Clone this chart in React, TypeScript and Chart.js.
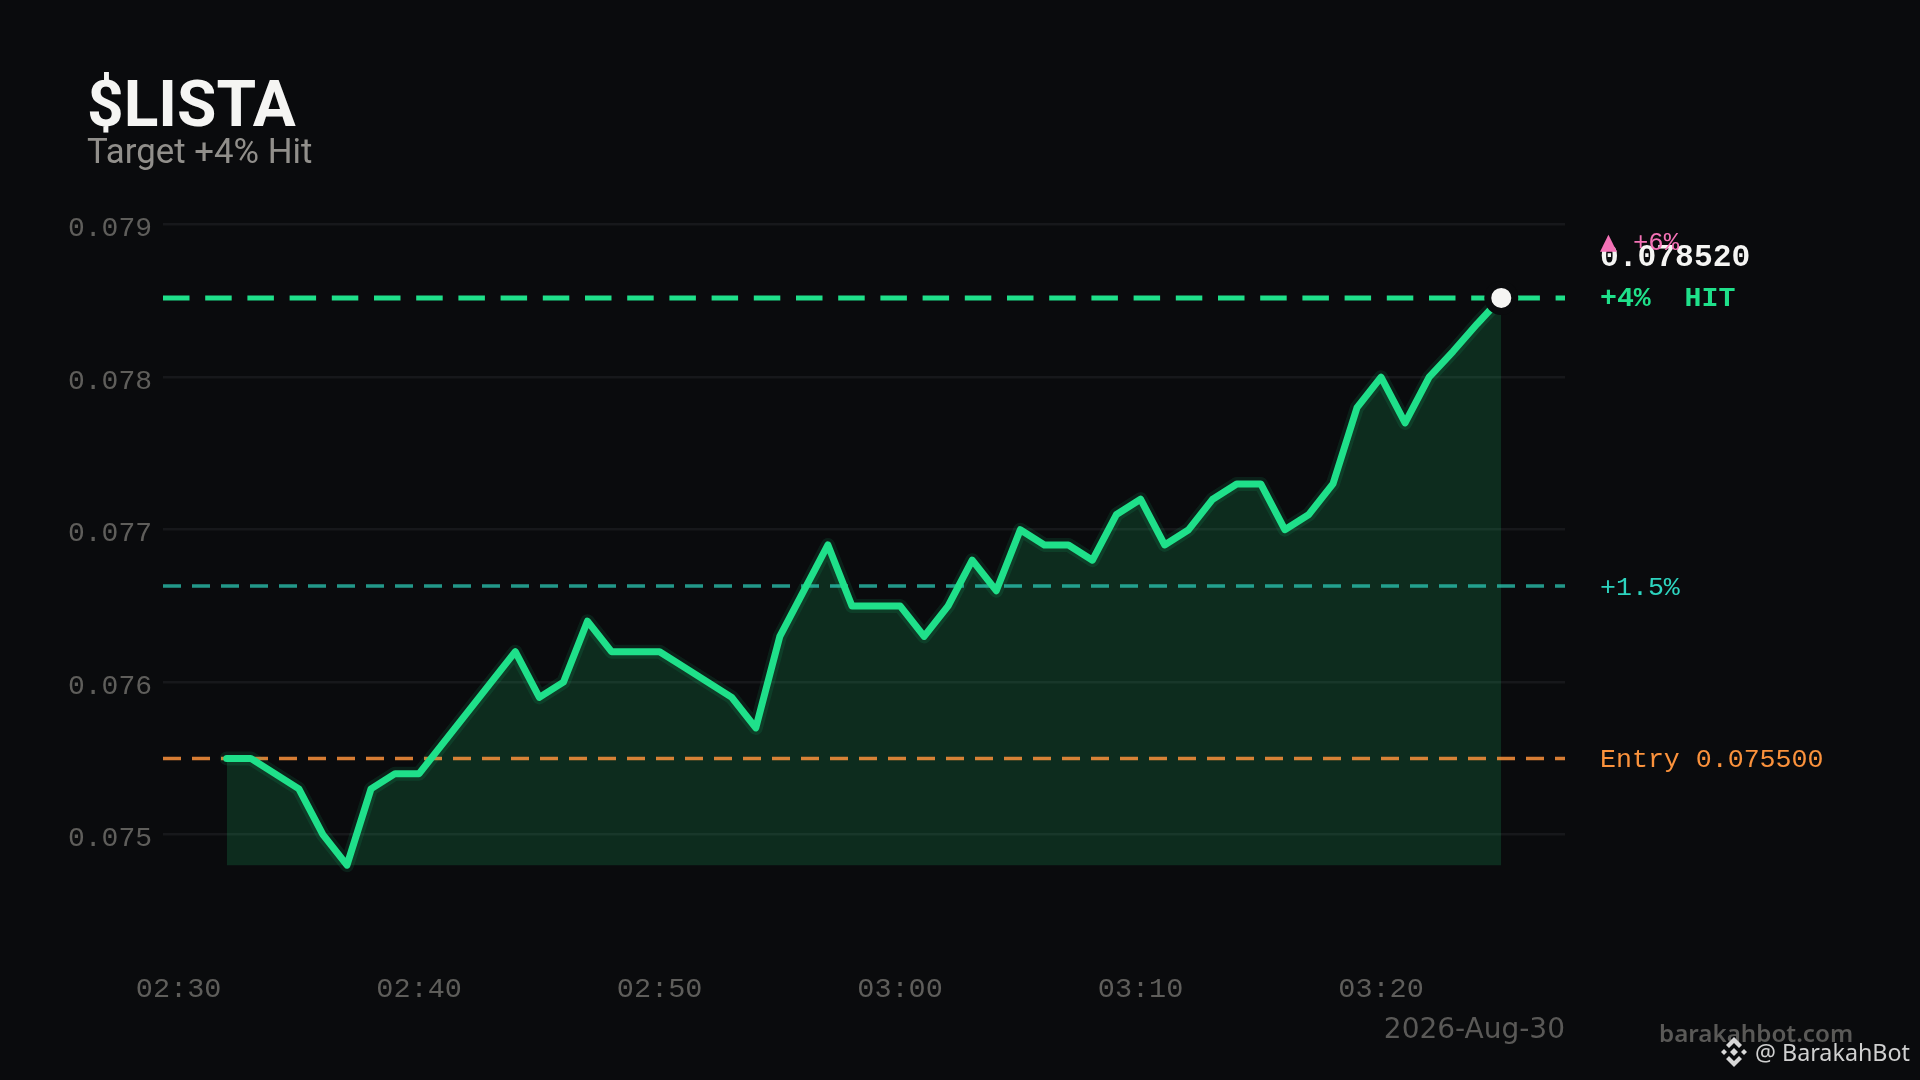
import React, { useEffect, useRef } from "react";
import { Chart, registerables } from "chart.js";

Chart.register(...registerables);

const firstTime = "02:32";
const prices = [
  0.0755, 0.0755, 0.0754, 0.0753, 0.075, 0.0748, 0.0753, 0.0754, 0.0754, 0.0756,
  0.0758, 0.076, 0.0762, 0.0759, 0.076, 0.0764, 0.0762, 0.0762, 0.0762, 0.0761,
  0.076, 0.0759, 0.0757, 0.0763, 0.0766, 0.0769, 0.0765, 0.0765, 0.0765, 0.0763,
  0.0765, 0.0768, 0.0766, 0.077, 0.0769, 0.0769, 0.0768, 0.0771, 0.0772, 0.0769,
  0.077, 0.0772, 0.0773, 0.0773, 0.077, 0.0771, 0.0773, 0.0778, 0.078, 0.0777,
  0.078, 0.07817, 0.07835, 0.07852,
];
const entryPrice = 0.0755;
const tp15Price = 0.07663;
const targetPrice = 0.07852;
const fillBase = 0.0748;

const xMinMinute = 149.35;
const xMaxMinute = 207.65;
const yMin = 0.07418;
const yMax = 0.0792;

const BG = "#0A0B0D";
const GREEN = "#1FE08A";
const MONO = '"Liberation Mono", monospace';

const toMinute = (s: string) => {
  const [h, m] = s.split(":").map(Number);
  return h * 60 + m;
};
const fmtMinute = (v: number) => {
  const h = Math.floor(v / 60);
  const m = Math.round(v - h * 60);
  return `${String(h).padStart(2, "0")}:${String(m).padStart(2, "0")}`;
};

const start = toMinute(firstTime);
const series = prices.map((y, i) => ({ x: start + i, y }));
const level = (y: number) => [
  { x: xMinMinute, y },
  { x: xMaxMinute, y },
];

const rightLabels = {
  id: "rightLabels",
  afterDraw(chart: any) {
    const { ctx, scales } = chart;
    const y = scales.y;
    const X = 1600;
    ctx.save();
    ctx.textBaseline = "middle";
    ctx.textAlign = "left";
    const put = (t: string, px: number, font: string, color: string, x = X) => {
      ctx.font = font;
      ctx.fillStyle = color;
      ctx.fillText(t, x, px + 1.5);
    };
    const ty = y.getPixelForValue(targetPrice);
    put("0.078520", ty - 41, `bold 31.3px ${MONO}`, "#F5F5F3");
    put("▲", ty - 56, '22px "DejaVu Sans"', "#F472B6");
    put("+6%", ty - 56, `25.6px ${MONO}`, "#F472B6", 1633);
    put("+4%  HIT", ty, `bold 28.2px ${MONO}`, GREEN);
    put("+1.5%", y.getPixelForValue(tp15Price), `26.6px ${MONO}`, "#2DD4BF");
    put("Entry 0.075500", y.getPixelForValue(entryPrice), `26.6px ${MONO}`, "#FB923C");
    ctx.restore();
  },
};

const abs = (o: React.CSSProperties): React.CSSProperties => ({
  position: "absolute",
  whiteSpace: "nowrap",
  lineHeight: 1,
  ...o,
});

export default function App() {
  const ref = useRef<HTMLCanvasElement>(null);

  useEffect(() => {
    document.body.style.margin = "0";
    document.body.style.background = BG;
    const chart = new Chart(ref.current!, {
      type: "line",
      data: {
        datasets: [
          {
            data: [series[series.length - 1]],
            order: 0,
            showLine: false,
            pointRadius: 13.5,
            pointBackgroundColor: "#F5F5F3",
            pointBorderColor: BG,
            pointBorderWidth: 7,
            clip: false,
          },
          {
            data: series,
            order: 1,
            borderColor: GREEN,
            borderWidth: 7,
            tension: 0,
            pointRadius: 0,
            borderJoinStyle: "round",
            borderCapStyle: "round",
          },
          {
            data: series,
            order: 2,
            borderColor: "rgba(31,224,138,0.1)",
            borderWidth: 14,
            tension: 0,
            pointRadius: 0,
            borderJoinStyle: "round",
            borderCapStyle: "round",
          },
          {
            data: level(targetPrice),
            order: 3,
            borderColor: GREEN,
            borderWidth: 5,
            borderDash: [26.5, 15.7],
            pointRadius: 0,
          },
          {
            data: level(tp15Price),
            order: 4,
            borderColor: "rgba(45,212,191,0.7)",
            borderWidth: 3.5,
            borderDash: [18, 11],
            pointRadius: 0,
          },
          {
            data: level(entryPrice),
            order: 5,
            borderColor: "rgba(251,146,60,0.85)",
            borderWidth: 3.5,
            borderDash: [18, 11],
            pointRadius: 0,
          },
          {
            data: series,
            order: 6,
            borderWidth: 0,
            tension: 0,
            pointRadius: 0,
            backgroundColor: "rgba(30,225,125,0.155)",
            fill: { value: fillBase },
          },
        ],
      },
      options: {
        responsive: false,
        animation: false,
        devicePixelRatio: 1,
        parsing: false,
        layout: { padding: { left: 0, right: 355, top: 194.2, bottom: 71.3 } },
        plugins: { legend: { display: false }, tooltip: { enabled: false } },
        scales: {
          x: {
            type: "linear",
            min: xMinMinute,
            max: xMaxMinute,
            grid: { display: false },
            border: { display: false },
            ticks: {
              stepSize: 10,
              includeBounds: false,
              maxRotation: 0,
              autoSkip: false,
              padding: 5,
              color: "#5F5E5B",
              font: { family: "Liberation Mono", size: 28.5 },
              callback: (v: any) => fmtMinute(Number(v)),
            },
            afterFit: (s: any) => {
              s.height = 49;
            },
          },
          y: {
            type: "linear",
            min: yMin,
            max: yMax,
            grid: { color: "#17181B", lineWidth: 2.5, drawTicks: false },
            border: { display: false },
            ticks: {
              stepSize: 0.001,
              includeBounds: false,
              padding: 11,
              labelOffset: 4,
              color: "#5F5E5B",
              font: { family: "Liberation Mono", size: 28 },
              callback: (v: any) => Number(v).toFixed(3),
            },
            afterFit: (s: any) => {
              s.width = 163;
            },
          },
        },
      },
      plugins: [rightLabels],
    } as any);
    return () => chart.destroy();
  }, []);

  return (
    <div style={{ position: "relative", width: 1920, height: 1080, background: BG, overflow: "hidden" }}>
      <canvas ref={ref} width={1920} height={1080} style={{ position: "absolute", left: 0, top: 0, width: 1920, height: 1080 }} />
      <div style={abs({ left: 87, top: 67, font: "700 64px Roboto", color: "#F5F5F3" })}>$LISTA</div>
      <div style={abs({ left: 87, top: 131, font: "400 34.8px Roboto", color: "#918F8B" })}>Target +4% Hit</div>
      <div style={abs({ right: 355, top: 1012, font: '400 28px "DejaVu Sans"', color: "#5A5957" })}>2026-Aug-30</div>
      <div style={abs({ left: 1659, top: 1016, font: '600 24.2px "Noto Sans"', color: "#5A5957" })}>barakahbot.com</div>
      <svg style={{ position: "absolute", left: 1720, top: 1037 }} width="28" height="30" viewBox="0 0 28 30">
        <g fill="#D8D8D8">
          <polygon points="14,0 22,8 19,11 14,6 9,11 6,8" />
          <polygon points="14,30 22,22 19,19 14,24 9,19 6,22" />
          <polygon points="14,11 18,15 14,19 10,15" />
          <polygon points="4,12 7,15 4,18 1,15" />
          <polygon points="24,12 27,15 24,18 21,15" />
        </g>
      </svg>
      <div style={abs({ left: 1755, top: 1036, font: '400 23.3px "Noto Sans"', color: "#D0D0D0" })}>@ BarakahBot</div>
    </div>
  );
}
